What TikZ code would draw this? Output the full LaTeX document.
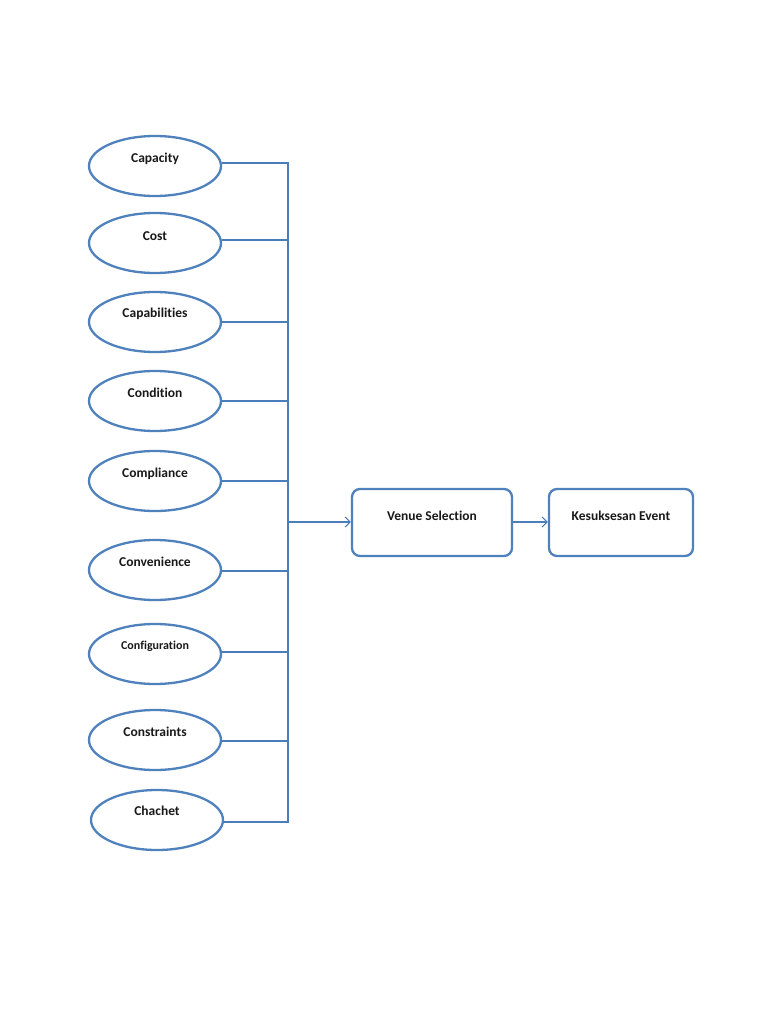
\documentclass[tikz,border=0pt]{standalone}
\usepackage{fontspec}
\setmainfont[Ligatures=NoCommon]{Carlito}
\usetikzlibrary{arrows.meta,shapes.geometric}
\definecolor{edge}{RGB}{74,126,187}
\definecolor{rim}{RGB}{79,129,189}
\tikzset{
  factor/.style={ellipse, draw=rim, line width=2.3pt, minimum width=132pt, minimum height=60pt, inner sep=0pt},
  lbl/.style={font=\bfseries\fontsize{13.5}{15}\selectfont, text=black!90},
  boxnode/.style={rectangle, rounded corners=8pt, draw=rim, line width=2.3pt, inner sep=0pt},
  conn/.style={draw=edge, line width=1.1pt},
  arr/.style={conn, -{Straight Barb[length=5pt,width=10pt,line width=1.1pt]}}
}
\begin{document}
\begin{tikzpicture}[x=1pt,y=-1pt]
\useasboundingbox (0,0) rectangle (768,1024);
\fill[white] (0,0) rectangle (768,1024);
% factors
\node[factor, label={[lbl,anchor=center,yshift=7]center:Capacity}] (cap) at (155,166) {};
\node[factor, label={[lbl,anchor=center,yshift=7]center:Cost}] (cost) at (155,243) {};
\node[factor, label={[lbl,anchor=center,yshift=8]center:Capabilities}] (capab) at (155,322) {};
\node[factor, label={[lbl,anchor=center,yshift=8]center:Condition}] (cond) at (155,401) {};
\node[factor, label={[lbl,anchor=center,yshift=7]center:Compliance}] (compl) at (155,481) {};
\node[factor, label={[lbl,anchor=center,yshift=8]center:Convenience}] (conv) at (155,570) {};
\node[factor, label={[lbl,anchor=center,yshift=8,font=\bfseries\fontsize{12}{14}\selectfont]center:Configuration}] (config) at (155,654) {};
\node[factor, label={[lbl,anchor=center,yshift=8]center:Constraints}] (constr) at (155,740) {};
\node[factor, label={[lbl,anchor=center,yshift=9]center:Chachet}] (chach) at (157,820) {};
% boxes
\node[boxnode, minimum width=160pt, minimum height=67pt, label={[lbl,anchor=center,yshift=7]center:Venue Selection}] (venue) at (432,522.5) {};
\node[boxnode, minimum width=144pt, minimum height=67pt, label={[lbl,anchor=center,yshift=7]center:Kesuksesan Event}] (kes) at (621,522.5) {};
% bus
\coordinate (top) at (288,163);
\coordinate (bot) at (288,822);
\coordinate (mid) at (288,522);
\draw[conn] (cap.east |- top) -- (top) -- (bot) -- (chach.east |- bot);
\draw[conn] (cost.east |- 0,240) -- (288,240);
\draw[conn] (capab.east) -- (capab.east -| top);
\draw[conn] (cond.east) -- (cond.east -| top);
\draw[conn] (compl.east) -- (compl.east -| top);
\draw[conn] (conv.east |- 0,571) -- (288,571);
\draw[conn] (config.east |- 0,652) -- (288,652);
\draw[conn] (constr.east |- 0,741) -- (288,741);
\draw[arr] (mid) -- (venue.west |- mid);
\draw[arr] (venue.east |- mid) -- (kes.west |- mid);
\end{tikzpicture}
\end{document}
